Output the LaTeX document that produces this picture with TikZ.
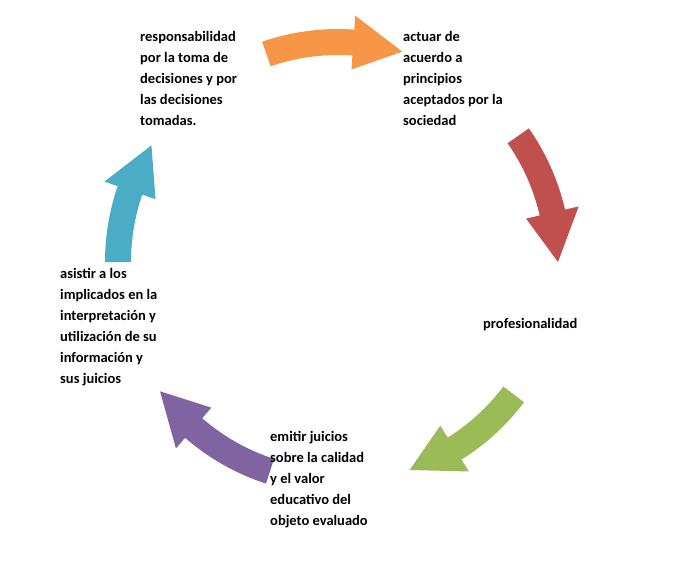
\documentclass[tikz,border=0pt]{standalone}
\usepackage{fontspec}
\setmainfont{Carlito}
\usetikzlibrary{positioning}
\definecolor{cycorange}{HTML}{F79646}
\definecolor{cycred}{HTML}{C0504D}
\definecolor{cycgreen}{HTML}{9BBB59}
\definecolor{cycpurple}{HTML}{8064A2}
\definecolor{cycteal}{HTML}{4BACC6}
% #1 start angle, #2 tip angle, #3 colour
\newcommand\cycarrow[3]{%
  \fill[#3] ([shift={(ctr)}]#1:207) arc[start angle=#1, end angle=#2+13, radius=207]
    -- ([shift={(ctr)}]#2+13:193) -- ([shift={(ctr)}]#2:220)
    -- ([shift={(ctr)}]#2+13:247) -- ([shift={(ctr)}]#2+13:233)
    arc[start angle=#2+13, end angle=#1, radius=233] -- cycle;}
\begin{document}
\begin{tikzpicture}[x=1pt, y=1pt,
                cyctext/.style={anchor=north west, align=left, inner sep=0pt,
                  font=\fontsize{14.5}{21}\selectfont\bfseries}]
            \useasboundingbox (0,0) rectangle (686,-567);
            \coordinate (ctr) at (338,-262);
            \cycarrow{109}{73}{cycorange}
            \cycarrow{35}{0}{cycred}
            \cycarrow{-37}{-71}{cycgreen}
            \cycarrow{-108}{-144}{cycpurple}
            \cycarrow{180}{148}{cycteal}
            \node[cyctext] (resp) at (140,-31) {responsabilidad\\por la toma de\\decisiones y por\\las decisiones\\tomadas.};
            \node[cyctext] (actuar) at (403,-31) {actuar de\\acuerdo a\\principios\\aceptados por la\\sociedad};
            \node[cyctext] (prof) at (483,-318) {profesionalidad};
            \node[cyctext] (emitir) at (270,-431) {emitir juicios\\sobre la calidad\\y el valor\\educativo del\\objeto evaluado};
            \node[cyctext] (asistir) at (60,-268) {asistir a los\\implicados en la\\interpretación y\\utilización de su\\información y\\sus juicios};
        \end{tikzpicture}
\end{document}
